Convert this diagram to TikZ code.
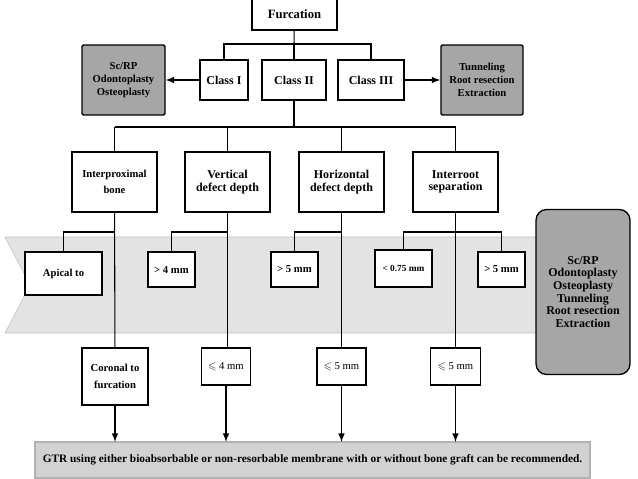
\documentclass[tikz,border=0pt]{standalone}
\usepackage{amssymb}
\usepackage{fontspec}
\setmainfont{Liberation Serif}
\begin{document}
\begin{tikzpicture}[x=0.75pt,y=-0.75pt,
 box/.style={draw,line width=1pt,fill=white,align=center,font=\bfseries\fontsize{8}{9.5}\selectfont,inner sep=1pt},
 gbox/.style={box,fill=gray!70,rounded corners=3pt},
 ln/.style={line width=0.8pt},
 arr/.style={line width=1.2pt,-latex}]
\useasboundingbox (0,0) rectangle (638,478);
% band
\fill[gray!22,draw=gray!50] (5,237) -- (545,237) -- (560,285) -- (545,333) -- (5,333) -- (30,285) -- cycle;
% top
\node[box,minimum width=85*0.75pt,minimum height=32*0.75pt] (f) at (294.5,14) {\fontsize{9.5}{10}\selectfont Furcation};
\node[box,minimum width=48*0.75pt,minimum height=40*0.75pt] (c1) at (224,80) {\fontsize{9}{10}\selectfont Class I};
\node[box,minimum width=64*0.75pt,minimum height=40*0.75pt] (c2) at (294,80) {\fontsize{9}{10}\selectfont Class II};
\node[box,minimum width=66*0.75pt,minimum height=40*0.75pt] (c3) at (371,80) {\fontsize{9}{10}\selectfont Class III};
\node[gbox,rounded corners=1pt,minimum width=83*0.75pt,minimum height=70*0.75pt] (g1) at (123.5,80) {Sc/RP\\Odontoplasty\\Osteoplasty};
\node[gbox,rounded corners=1pt,minimum width=82*0.75pt,minimum height=70*0.75pt] (g2) at (482,80) {Tunneling\\Root resection\\Extraction};
\coordinate (b1) at (224,44); \coordinate (b3) at (371,44);
\draw[ln] (f) -- (294,44); \draw[ln] (c1) -- (b1) -- (b3) -- (c3); \draw[ln] (294,44) -- (c2);
\draw[arr] (c1) -- (g1); \draw[arr] (c3) -- (g2);
% level 2
\node[box,minimum width=85*0.75pt,minimum height=60*0.75pt] (i) at (114.5,182) {Interproximal\\[3pt]bone};
\node[box,minimum width=85*0.75pt,minimum height=60*0.75pt] (v) at (227.5,182) {\fontsize{9}{11}\selectfont Vertical\\\fontsize{9}{11}\selectfont defect depth};
\node[box,minimum width=85*0.75pt,minimum height=60*0.75pt] (h) at (341.5,182) {\fontsize{9}{11}\selectfont Horizontal\\\fontsize{9}{11}\selectfont defect depth};
\node[box,minimum width=85*0.75pt,minimum height=60*0.75pt] (r) at (455.5,182) {\fontsize{9}{11}\selectfont Interroot\\\fontsize{9}{11}\selectfont separation};
\draw[ln] (c2) -- (294,127); \draw[ln] (114.5,127) -- (455.5,127);
\foreach \n/\x in {i/114.5,v/227.5,h/341.5,r/455.5} \draw[ln] (\x,127) -- (\n);
% band boxes
\node[box,minimum width=77*0.75pt,minimum height=43*0.75pt] (a) at (63.5,273.5) {Apical to};
\node[box,minimum width=47*0.75pt,minimum height=35*0.75pt] (v1) at (171.5,269.5) {> 4 mm};
\node[box,minimum width=47*0.75pt,minimum height=35*0.75pt] (h1) at (294.5,269.5) {> 5 mm};
\node[box,minimum width=57*0.75pt,minimum height=37*0.75pt] (r1) at (403.5,268.5) {\fontsize{7}{8}\selectfont < 0.75 mm};
\node[box,minimum width=47*0.75pt,minimum height=35*0.75pt] (r2) at (501.5,269.5) {> 5 mm};
% bottom boxes
\node[box,minimum width=66*0.75pt,minimum height=57*0.75pt] (i2) at (115,376.5) {Coronal to\\[3pt]furcation};
\node[box,font=\fontsize{8}{9}\selectfont,minimum width=49*0.75pt,minimum height=37*0.75pt] (v2) at (226,366.5) {$\leqslant$ 4 mm};
\node[box,font=\fontsize{8}{9}\selectfont,minimum width=49*0.75pt,minimum height=37*0.75pt] (h2) at (341.5,366.5) {$\leqslant$ 5 mm};
\node[box,font=\fontsize{8}{9}\selectfont,minimum width=50*0.75pt,minimum height=37*0.75pt] (r3) at (455.5,366.5) {$\leqslant$ 5 mm};
\draw[ln] (i) -- (i2); \draw[ln] (v) -- (227.5,348); \draw[ln] (h) -- (341.5,348); \draw[ln] (r) -- (r3);
\draw[ln] (114.5,232) -| (a); \draw[ln] (227.5,232) -| (v1); \draw[ln] (341.5,232) -| (h1);
\draw[ln] (r1) |- (455.5,232) -| (r2);
% right
\node[gbox,rounded corners=8pt,minimum width=94*0.75pt,minimum height=165*0.75pt] (g3) at (583,292) {\fontsize{9}{11}\selectfont Sc/RP\\\fontsize{9}{11}\selectfont Odontoplasty\\\fontsize{9}{11}\selectfont Osteoplasty\\\fontsize{9}{11}\selectfont Tunneling\\\fontsize{9}{11}\selectfont Root resection\\\fontsize{9}{11}\selectfont Extraction};
% bottom bar
\node[box,draw=gray!60,fill=gray!35,minimum width=555*0.75pt,minimum height=36*0.75pt] (bar) at (312.5,460) {\fontsize{8.5}{10}\selectfont GTR using either bioabsorbable or non-resorbable membrane with or without bone graft can be recommended.};
\draw[arr] (i2) -- (115,442); \draw[arr] (v2) -- (226,442); \draw[arr] (h2) -- (341.5,442); \draw[arr] (r3) -- (455.5,442);
\end{tikzpicture}
\end{document}
